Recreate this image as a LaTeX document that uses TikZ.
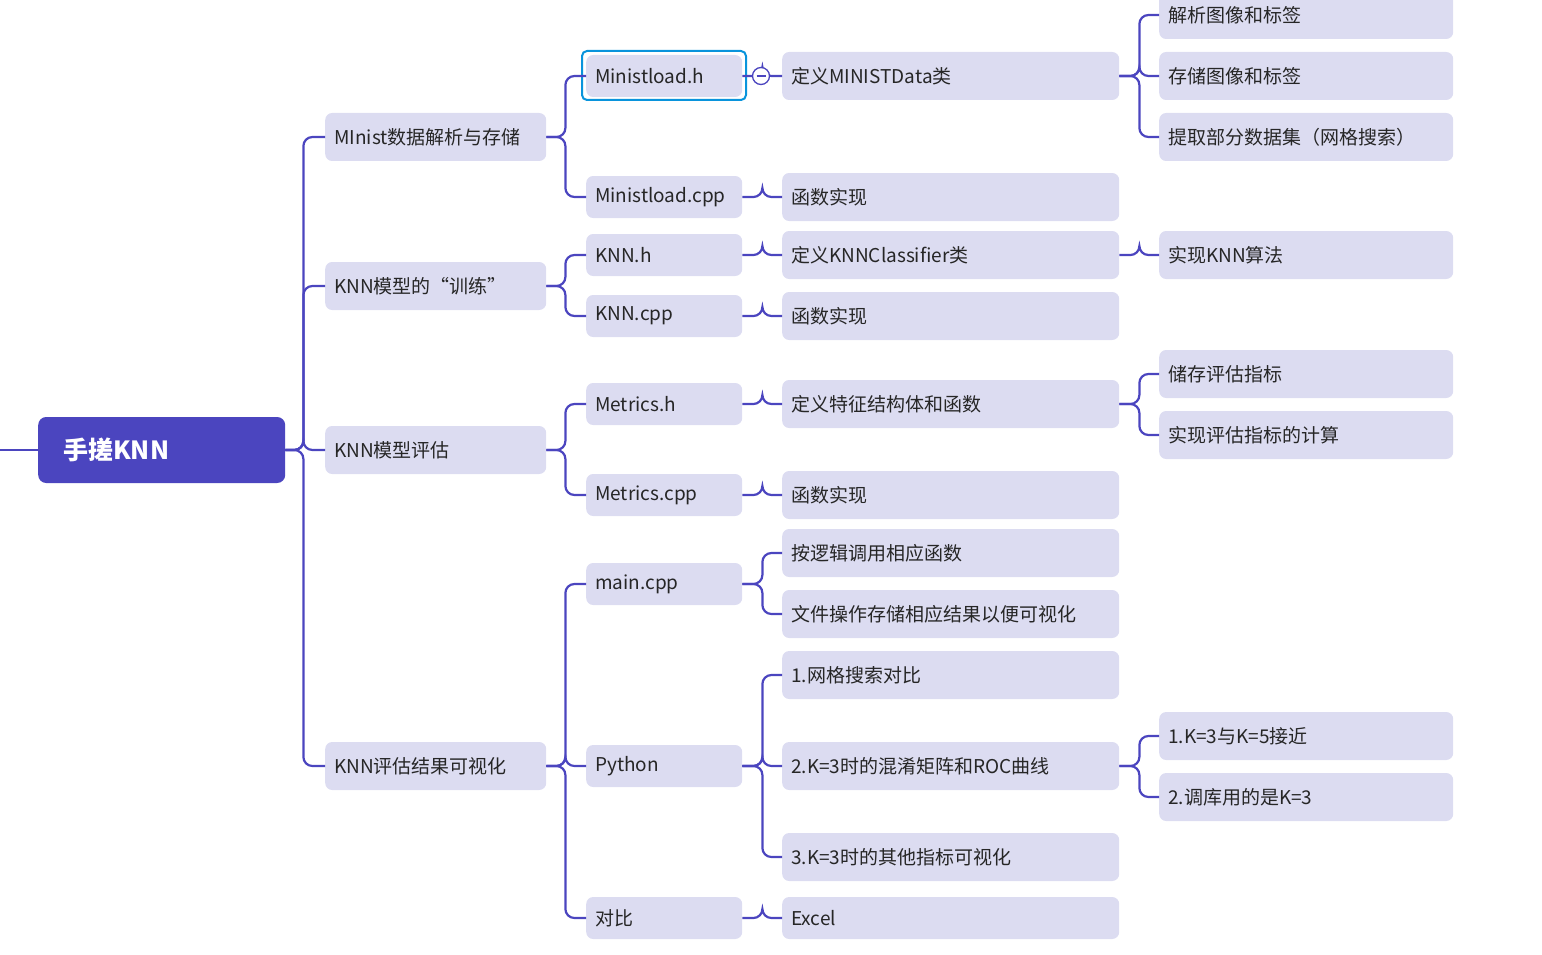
\documentclass[tikz,border=0pt]{standalone}
\usepackage{fontspec}
\setmainfont{Noto Sans CJK SC}
\begin{document}
\begin{tikzpicture}[x=1pt,y=-1pt,
  bx/.style={fill=boxc, rounded corners=7pt, anchor=west, align=left, inner xsep=9pt, inner ysep=0pt, font=\fontsize{19}{22}\selectfont, text=black!85},
  link/.style={draw=linec, line width=2.2pt, rounded corners=9pt}]
\definecolor{boxc}{HTML}{DCDCF1}
\definecolor{linec}{HTML}{4B45BF}
\useasboundingbox (0,0) rectangle (1542,955);
\clip (0,0) rectangle (1542,955);
\newcommand\bxn[6]{\node[bx, minimum width=#4, text width=#4-18, minimum height=#5] (#1) at (#2,#3) {#6};}
\newcommand\conn[3]{\draw[link] (#1.east) -- ++(#3,0) |- (#2.west);}
% root
\node[fill=linec, rounded corners=8pt, anchor=west, minimum width=247, minimum height=66, text width=247-50, inner xsep=25pt, align=left, text=white, font=\fontsize{25}{28}\selectfont\bfseries] (root) at (38,450) {手搓KNN};
\coordinate (lft) at (0,450);
\draw[link] (lft) -- (root.west);
% level1
\bxn{a1}{325}{137}{221}{48}{MInist数据解析与存储}
\bxn{a2}{325}{286}{221}{48}{KNN模型的“训练”}
\bxn{a3}{325}{450}{221}{48}{KNN模型评估}
\bxn{a4}{325}{766}{221}{48}{KNN评估结果可视化}
% level2
\bxn{b1}{586}{76}{156}{42}{Ministload.h}
\bxn{b2}{586}{197}{156}{42}{Ministload.cpp}
\bxn{b3}{586}{255}{156}{42}{KNN.h}
\bxn{b4}{586}{316}{156}{42}{KNN.cpp}
\bxn{b5}{586}{404}{156}{42}{Metrics.h}
\bxn{b6}{586}{495}{156}{42}{Metrics.cpp}
\bxn{b7}{586}{584}{156}{42}{main.cpp}
\bxn{b8}{586}{766}{156}{42}{Python}
\bxn{b9}{586}{918}{156}{42}{对比}
\draw[draw=cyan!80!blue, line width=2pt, rounded corners=5pt] (582,51) rectangle (746,100);
% level3
\bxn{c1}{782}{76}{337}{48}{定义MINISTData类}
\bxn{c2}{782}{197}{337}{48}{函数实现}
\bxn{c3}{782}{255}{337}{48}{定义KNNClassifier类}
\bxn{c4}{782}{316}{337}{48}{函数实现}
\bxn{c5}{782}{404}{337}{48}{定义特征结构体和函数}
\bxn{c6}{782}{495}{337}{48}{函数实现}
\bxn{c7}{782}{553}{337}{48}{按逻辑调用相应函数}
\bxn{c8}{782}{614}{337}{48}{文件操作存储相应结果以便可视化}
\bxn{c9}{782}{675}{337}{48}{1.网格搜索对比}
\bxn{c10}{782}{766}{337}{48}{2.K=3时的混淆矩阵和ROC曲线}
\bxn{c11}{782}{857}{337}{48}{3.K=3时的其他指标可视化}
\bxn{c12}{782}{918}{337}{42}{Excel}
% level4
\bxn{d1}{1159}{15}{294}{48}{解析图像和标签}
\bxn{d2}{1159}{76}{294}{48}{存储图像和标签}
\bxn{d3}{1159}{137}{294}{48}{提取部分数据集（网格搜索）}
\bxn{d4}{1159}{255}{294}{48}{实现KNN算法}
\bxn{d5}{1159}{374}{294}{48}{储存评估指标}
\bxn{d6}{1159}{435}{294}{48}{实现评估指标的计算}
\bxn{d7}{1159}{736}{294}{48}{1.K=3与K=5接近}
\bxn{d8}{1159}{797}{294}{48}{2.调库用的是K=3}
% connectors
\foreach \c in {a1,a2,a3,a4}{\conn{root}{\c}{18}}
\foreach \c in {b1,b2}{\conn{a1}{\c}{19}}
\foreach \c in {b3,b4}{\conn{a2}{\c}{19}}
\foreach \c in {b5,b6}{\conn{a3}{\c}{19}}
\foreach \c in {b7,b8,b9}{\conn{a4}{\c}{19}}
\conn{b1}{c1}{20}
\conn{b2}{c2}{20}
\conn{b3}{c3}{20}
\conn{b4}{c4}{20}
\conn{b5}{c5}{20}
\conn{b6}{c6}{20}
\foreach \c in {c7,c8}{\conn{b7}{\c}{20}}
\foreach \c in {c9,c10,c11}{\conn{b8}{\c}{20}}
\conn{b9}{c12}{20}
\foreach \c in {d1,d2,d3}{\conn{c1}{\c}{20}}
\conn{c3}{d4}{20}
\foreach \c in {d5,d6}{\conn{c5}{\c}{20}}
\foreach \c in {d7,d8}{\conn{c10}{\c}{20}}
% collapse icon
\node[circle, draw=linec, fill=white, line width=1.3pt, minimum size=17pt, inner sep=0pt] (tog) at (761,76) {};
\draw[linec, line width=1.3pt] ([xshift=-4.5pt]tog.center) -- ([xshift=4.5pt]tog.center);
\end{tikzpicture}
\end{document}
